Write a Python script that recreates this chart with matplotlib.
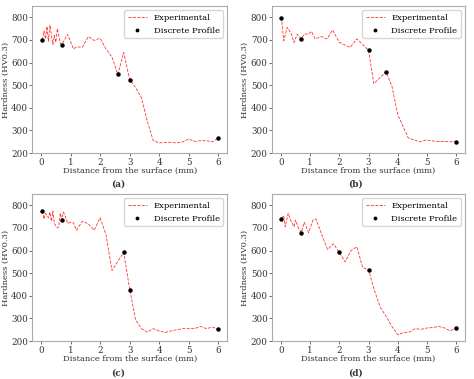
import numpy as np
import matplotlib.pyplot as plt

plt.rcParams['font.family'] = 'DejaVu Serif'

# panel (a)
xa = [0.04, 0.1, 0.15, 0.2, 0.25, 0.3, 0.4, 0.45, 0.5, 0.55, 0.65, 0.7, 0.9, 1.1, 1.2, 1.4,
      1.6, 1.8, 2.0, 2.2, 2.4, 2.6, 2.8, 3.0, 3.2, 3.4, 3.6, 3.8, 4.0, 4.2, 4.4, 4.6,
      4.8, 5.0, 5.2, 5.4, 5.6, 5.8, 6.0]
ya = [700, 740, 705, 760, 695, 765, 680, 720, 690, 750, 685, 680, 725, 660, 670, 668,
      715, 698, 708, 660, 625, 548, 645, 525, 490, 445, 340, 255, 245, 247, 248, 245,
      250, 262, 252, 255, 255, 250, 265]
da_x = [0.04, 0.7, 2.6, 3.0, 6.0]
da_y = [700, 678, 548, 525, 265]

# panel (b)
xb = [0.02, 0.1, 0.22, 0.36, 0.45, 0.56, 0.7, 0.8, 0.95, 1.05, 1.17, 1.38, 1.58, 1.77,
      2.0, 2.37, 2.6, 3.0, 3.18, 3.6, 3.8, 4.0, 4.36, 4.75, 4.98, 5.3, 6.0]
yb = [800, 697, 756, 726, 689, 726, 705, 726, 726, 738, 705, 715, 705, 744,
      690, 667, 705, 655, 507, 560, 496, 370, 267, 250, 258, 252, 250]
db_x = [0.02, 0.7, 3.0, 3.6, 6.0]
db_y = [798, 705, 655, 560, 250]

# panel (c)
xc = [0.02, 0.05, 0.1, 0.15, 0.2, 0.25, 0.3, 0.35, 0.4, 0.45, 0.5, 0.55, 0.6, 0.65, 0.7,
      0.75, 0.8, 0.9, 1.0, 1.1, 1.2, 1.4, 1.6, 1.8, 2.0, 2.2, 2.4, 2.8, 3.0, 3.2, 3.4,
      3.6, 3.8, 4.0, 4.2, 4.4, 4.6, 4.8, 5.0, 5.2, 5.4, 5.6, 5.8, 6.0]
yc = [775, 765, 740, 765, 755, 745, 770, 730, 775, 720, 710, 700, 705, 765, 735,
      770, 760, 720, 725, 722, 690, 730, 718, 690, 745, 670, 512, 592, 430, 295, 255,
      240, 255, 245, 238, 245, 250, 255, 255, 255, 265, 255, 262, 252]
dc_x = [0.02, 0.7, 2.8, 3.0, 6.0]
dc_y = [775, 735, 592, 428, 252]

# panel (d)
xd = [0.02, 0.1, 0.15, 0.25, 0.35, 0.45, 0.5, 0.6, 0.7, 0.8, 0.95, 1.1, 1.2, 1.4, 1.6,
      1.8, 2.0, 2.2, 2.4, 2.6, 2.8, 3.0, 3.2, 3.4, 3.6, 3.8, 4.0, 4.2, 4.4, 4.6, 4.8,
      5.0, 5.2, 5.4, 5.6, 5.8, 6.0]
yd = [741, 755, 705, 765, 730, 705, 735, 700, 680, 725, 680, 735, 740, 670, 605,
      630, 592, 550, 600, 617, 525, 515, 425, 350, 310, 265, 228, 238, 240, 255, 252,
      258, 260, 265, 258, 245, 260]
dd_x = [0.02, 0.7, 2.0, 3.0, 6.0]
dd_y = [740, 680, 592, 515, 260]

panels = [(xa, ya, da_x, da_y, '(a)'), (xb, yb, db_x, db_y, '(b)'),
          (xc, yc, dc_x, dc_y, '(c)'), (xd, yd, dd_x, dd_y, '(d)')]
boxes = [[0.068, 0.596, 0.411, 0.388], [0.574, 0.596, 0.407, 0.388],
         [0.068, 0.100, 0.411, 0.388], [0.574, 0.100, 0.407, 0.388]]
cap_pos = [(0.25, 0.508), (0.75, 0.508), (0.25, 0.010), (0.75, 0.010)]

fig = plt.figure(figsize=(4.74, 3.79), dpi=100)
fs = 6.0
for (x, y, dx, dy, lab), box, cp in zip(panels, boxes, cap_pos):
    ax = fig.add_axes(box)
    ax.plot(x, y, color='red', linestyle='--', linewidth=0.6, alpha=0.8, label='Experimental')
    ax.plot(dx, dy, 'o', color='black', markersize=2.2, label='Discrete Profile')
    ax.set_xlim(-0.3, 6.3)
    ax.set_ylim(200, 850)
    ax.set_yticks([200, 300, 400, 500, 600, 700, 800])
    ax.set_xticks([0, 1, 2, 3, 4, 5, 6])
    ax.tick_params(labelsize=fs + 0.3, length=2, width=0.5, pad=1.2, colors='#333333')
    for s in ax.spines.values():
        s.set_color('#aaaaaa')
        s.set_linewidth(0.8)
    ax.set_xlabel('Distance from the surface (mm)', fontsize=fs, labelpad=0.5, color='#333333')
    ax.set_ylabel('Hardness (HV0.3)', fontsize=fs, labelpad=1, color='#333333')
    ax.legend(loc='upper right', fontsize=fs, frameon=True, handlelength=2.3,
              markerscale=0.8, borderpad=0.4, labelspacing=0.6)
    fig.text(cp[0], cp[1], lab, ha='center', fontsize=6.5, fontweight='bold', color='#333333')

fig.savefig('out.png', dpi=100)
